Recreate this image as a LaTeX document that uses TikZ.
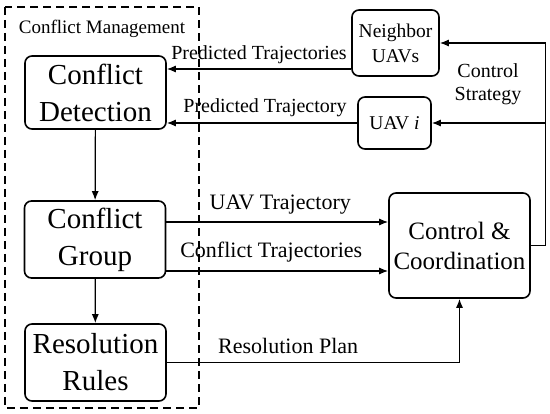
\documentclass[tikz,border=0pt]{standalone}
\usepackage{fontspec}
\setmainfont{Liberation Serif}
\usetikzlibrary{arrows.meta,positioning}

\begin{document}
\begin{tikzpicture}[x=1pt, y=-1pt, >={Latex[length=9pt,width=7pt]},
    block/.style={draw, line width=1.6pt, rounded corners=7pt, align=center, inner sep=0pt},
    bigblock/.style={block, font=\fontsize{29}{37}\selectfont, minimum width=141pt, minimum height=76pt},
    smallblock/.style={block, font=\fontsize{19.5}{25}\selectfont},
    lbl/.style={font=\fontsize{20}{23}\selectfont, inner sep=0pt, align=center},
    midlbl/.style={lbl, font=\fontsize{22}{26}\selectfont},
    link/.style={->, line width=1.2pt}]
  \useasboundingbox (0,0) rectangle (550,414);
  % conflict management group
  \draw[line width=1.2pt, dash pattern=on 8pt off 5pt] (5,7) rectangle (199,408);
  \node[lbl, font=\fontsize{19}{23}\selectfont] (manage) at (102,29) {Conflict Management};
  \node[bigblock, minimum height=73pt] (detect) at (95.5,92.5) {Conflict\\Detection};
  \node[bigblock, minimum height=77pt] (group) at (95,239.5) {Conflict\\Group};
  \node[bigblock, minimum height=77pt] (rules) at (95.5,362.5) {Resolution\\Rules};
  % uavs and control
  \node[smallblock, minimum width=87pt, minimum height=66pt] (neighbor) at (395.5,43) {Neighbor\\UAVs};
  \node[smallblock, minimum width=73pt, minimum height=52pt] (uav) at (394.5,123) {UAV \textit{i}};
  \node[block, font=\fontsize{25}{30}\selectfont, minimum width=141pt, minimum height=105pt] (ctrl) at (459.5,245.5) {Control \&\\Coordination};
  \node[lbl] (strategy) at (488,84) {Control\\Strategy};

  \draw[link] ([yshift=-26pt]neighbor.west) coordinate (np) -- (detect.east |- np)
    node[lbl, midway, above=5pt] {Predicted Trajectories};
  \draw[link] (uav.west) -- (detect.east |- uav.west)
    node[lbl, midway, above=6pt, xshift=3pt] {Predicted Trajectory};
  \draw[link] (detect) -- (group);
  \draw[link] (group) -- (rules);
  \draw[link] ([yshift=17.5pt]group.east) coordinate (ut) -- (ctrl.west |- ut)
    node[midlbl, midway, above=7pt, xshift=3pt] {UAV Trajectory};
  \draw[link] ([yshift=-31.5pt]group.east) coordinate (ct) -- (ctrl.west |- ct)
    node[midlbl, midway, above=8pt, xshift=-6pt] {Conflict Trajectories};
  \draw[link] (rules.east) -- (ctrl.south |- rules.east)
    node[midlbl, midway, above=8.5pt, xshift=-25pt] {Resolution Plan} -- (ctrl.south);
  \draw[link] (ctrl.east) -- ++(14.5,0) coordinate (turn) |- (neighbor.east);
  \draw[link] (turn) |- (uav.east);
\end{tikzpicture}
\end{document}
